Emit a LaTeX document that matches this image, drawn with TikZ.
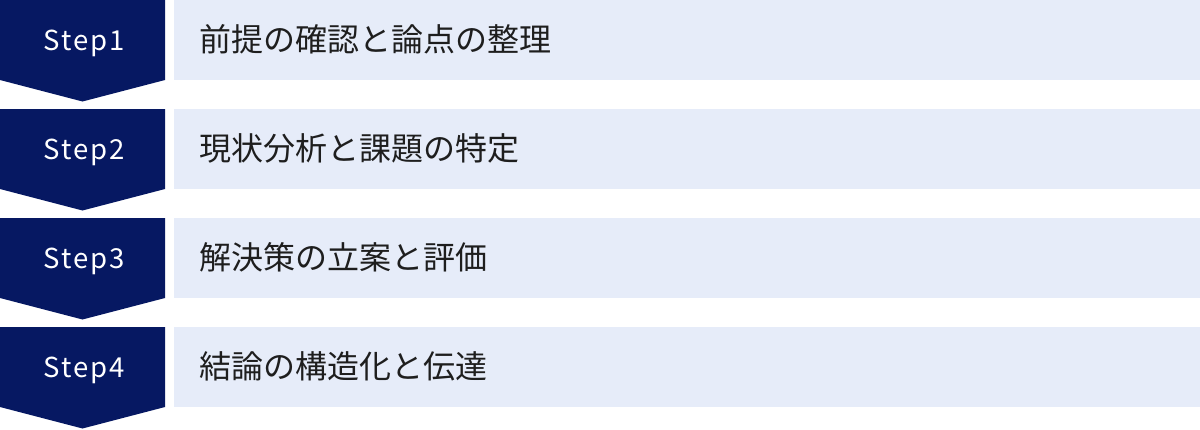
\documentclass[tikz,border=0pt]{standalone}
\usepackage{fontspec}
\setmainfont{Noto Sans CJK JP}
\newfontfamily\stepfont[LetterSpace=7]{Noto Sans CJK JP}
\definecolor{navy}{HTML}{061862}
\definecolor{lightbg}{HTML}{E6ECF9}
\definecolor{txt}{HTML}{1E1E1E}
\tikzset{
  stepshape/.style={fill=navy, draw=none},
  bar/.style={fill=lightbg, draw=none},
  steplabel/.style={text=white, font=\stepfont\fontsize{27.5}{32}\selectfont, inner sep=0pt, anchor=base},
  barlabel/.style={text=txt, font=\fontsize{32}{38}\selectfont, inner sep=0pt, anchor=base west}
}
\begin{document}
\begin{tikzpicture}[x=1pt,y=-1pt]
\useasboundingbox (0,0) rectangle (1200,429);
\foreach \i/\lab/\txt in {0/1/前提の確認と論点の整理, 1/2/現状分析と課題の特定, 2/3/解決策の立案と評価, 3/4/結論の構造化と伝達} {
  \pgfmathsetmacro{\yo}{\i*109}
  \fill[stepshape] (0,\yo) -- (165,\yo) -- (165,\yo+80) -- (82.5,\yo+101.5) -- (0,\yo+80) -- cycle;
  \fill[bar] (174,\yo) rectangle (1200,\yo+80);
  \node[steplabel] (s\lab) at (84,\yo+50.5) {Step\lab};
  \node[barlabel] (t\lab) at (199,\yo+51.5) {\txt};
}
\end{tikzpicture}
\end{document}
